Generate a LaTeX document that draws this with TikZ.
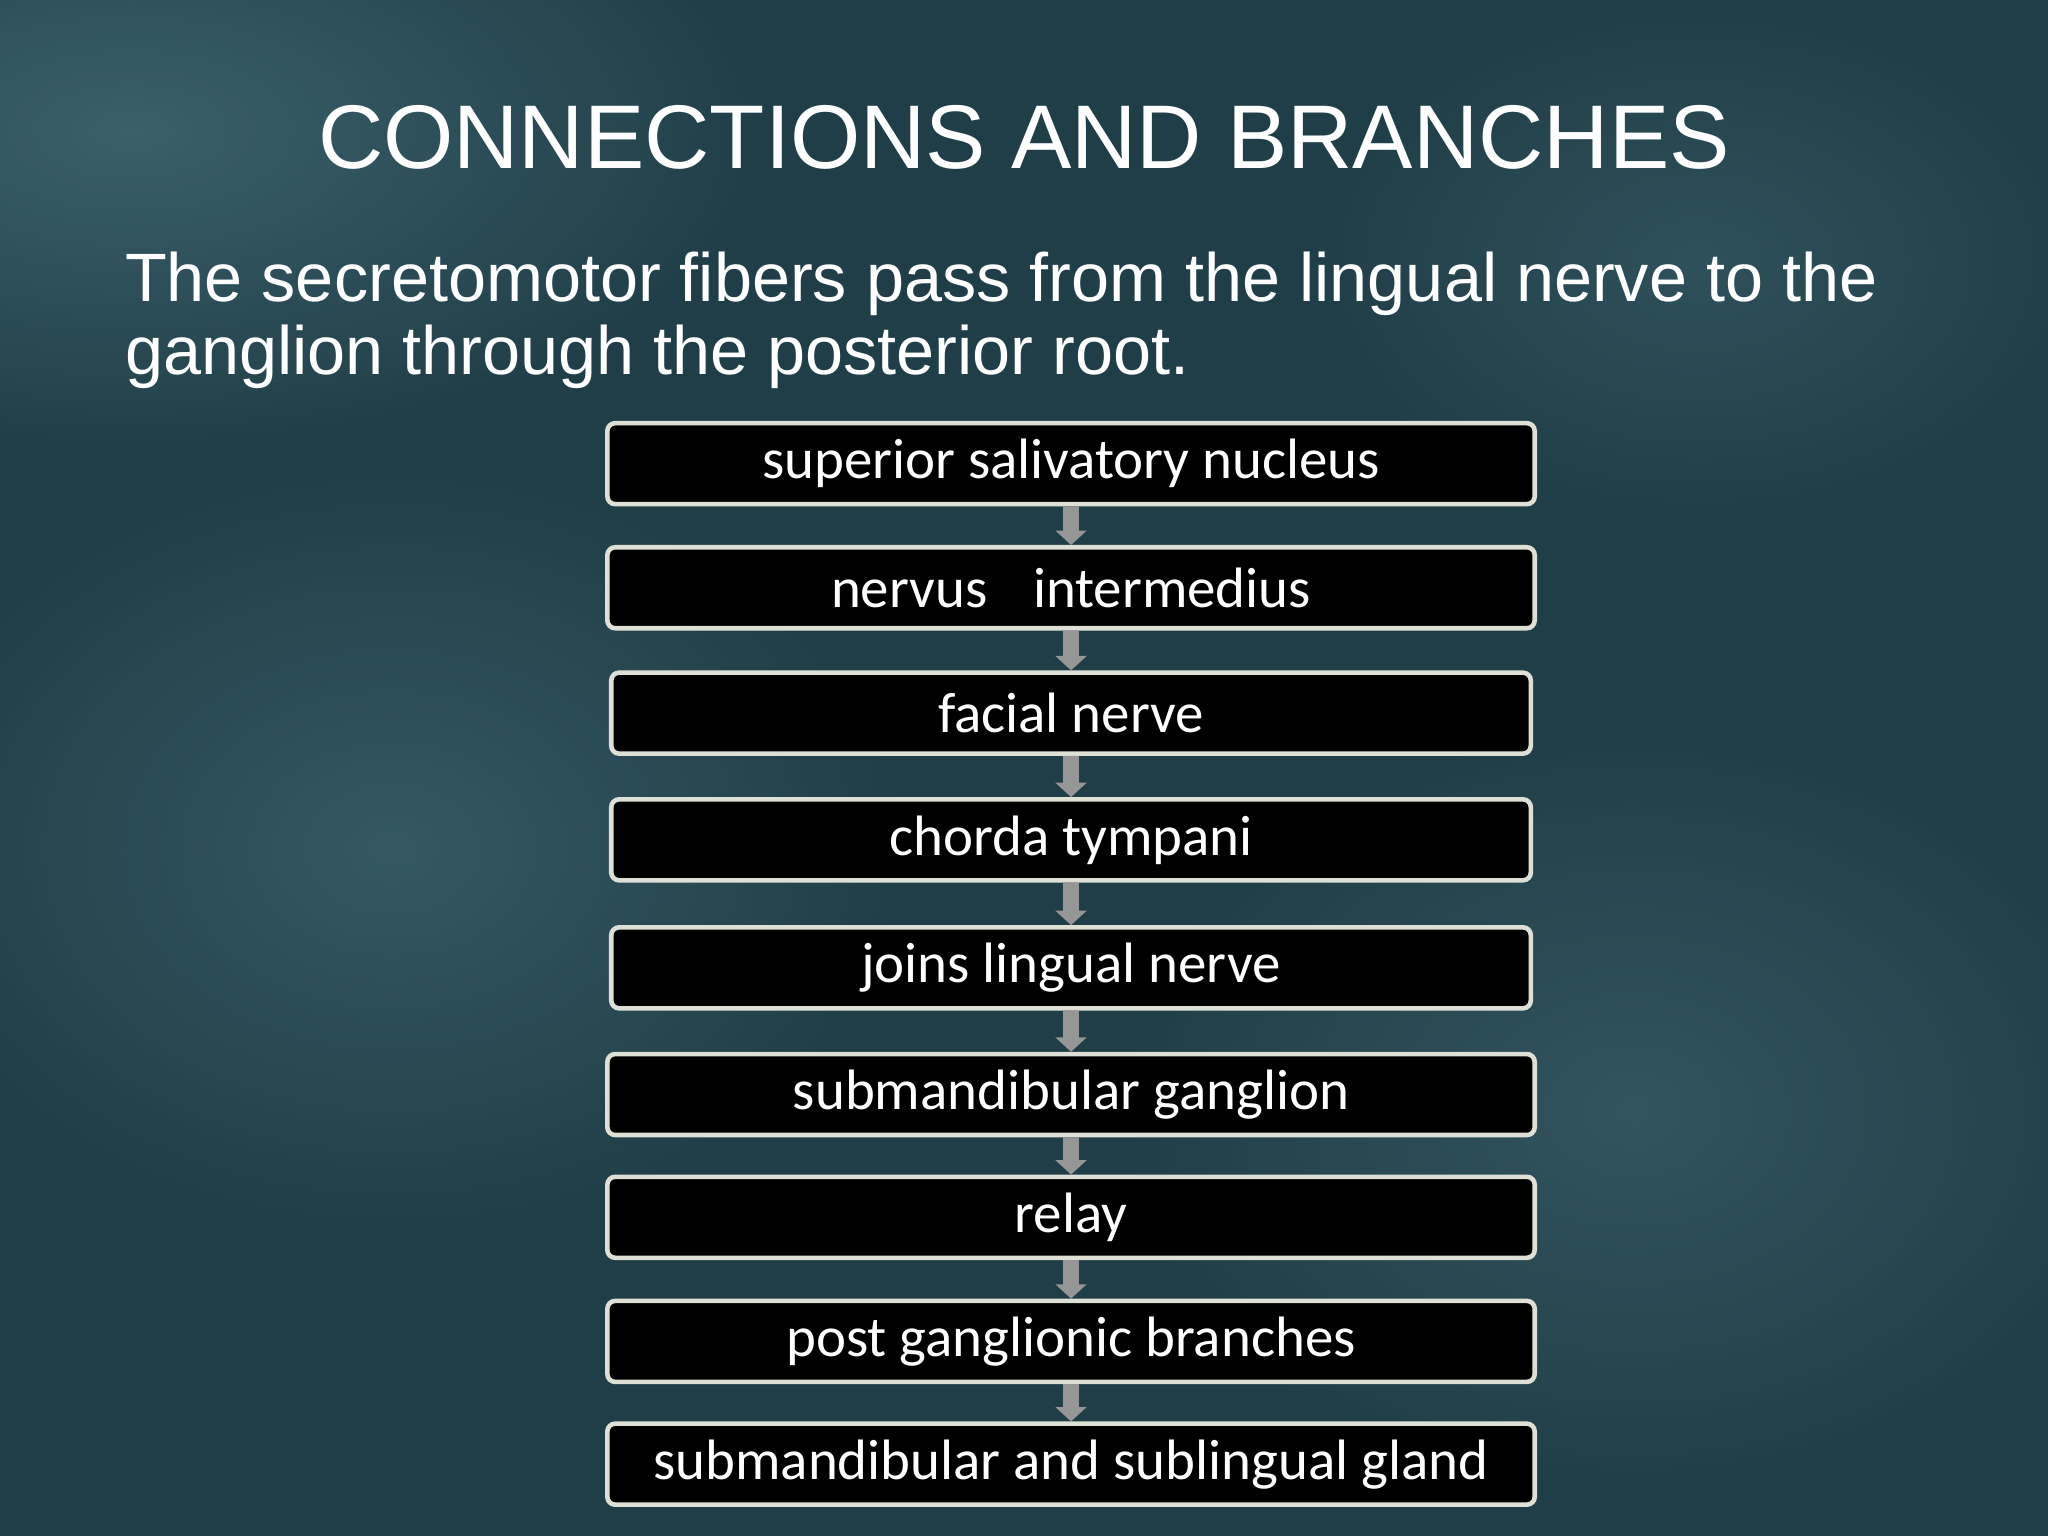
\documentclass[tikz,border=0pt]{standalone}
\usepackage{fontspec}
\setmainfont{Liberation Sans}
\newfontfamily\boxfont{Carlito}
\usetikzlibrary{calc}
\definecolor{bgdark}{RGB}{32,62,72}
\definecolor{bgmid}{RGB}{62,100,110}
\definecolor{boxedge}{RGB}{222,224,214}
\definecolor{arrowgray}{RGB}{150,150,150}
\tikzset{
  flowbox/.style={draw=boxedge, line width=0.035cm, fill=black, rounded corners=0.06cm,
    minimum height=0.62cm, text=white, font=\boxfont\fontsize{12.4pt}{14pt}\selectfont, inner sep=0pt},
  dnarrow/.style={fill=arrowgray, draw=none}
}
\begin{document}
\begin{tikzpicture}[x=1cm,y=-1cm]
\useasboundingbox (0,0) rectangle (15.68,11.76);
\fill[bgdark] (0,0) rectangle (15.68,11.76);
\shade[inner color=bgmid, outer color=bgdark, opacity=0.9] (1,1) ellipse (5 and 2.5);
\shade[inner color=bgmid, outer color=bgdark, opacity=0.7] (3,6.5) ellipse (4 and 3);
\shade[inner color=bgmid, outer color=bgdark, opacity=0.6] (12.5,8.5) ellipse (4 and 3);
\shade[inner color=bgmid, outer color=bgdark, opacity=0.5] (13,2) ellipse (3 and 2);
\node[text=white, font=\fontsize{19.7pt}{24pt}\selectfont] (title) at (7.84,1.05) {CONNECTIONS AND BRANCHES};
\node[text=white, font=\fontsize{14.9pt}{16pt}\selectfont, anchor=north west, align=left, inner sep=0pt] (body) at (0.95,1.92)
  {The secretomotor fibers pass from the lingual nerve to the\\ganglion through the posterior root.};
\node[flowbox, minimum width=7.1cm] (b1) at (8.2,3.55) {superior salivatory nucleus};
\node[flowbox, minimum width=7.1cm] (b2) at (8.2,4.50) {nervus\hspace{0.8em}intermedius};
\node[flowbox, minimum width=7.04cm] (b3) at (8.2,5.46) {facial nerve};
\node[flowbox, minimum width=7.04cm] (b4) at (8.2,6.43) {chorda tympani};
\node[flowbox, minimum width=7.04cm] (b5) at (8.2,7.41) {joins lingual nerve};
\node[flowbox, minimum width=7.1cm] (b6) at (8.2,8.38) {submandibular ganglion};
\node[flowbox, minimum width=7.1cm] (b7) at (8.2,9.32) {relay};
\node[flowbox, minimum width=7.1cm] (b8) at (8.2,10.27) {post ganglionic branches};
\node[flowbox, minimum width=7.1cm] (b9) at (8.2,11.21) {submandibular and sublingual gland};
\foreach \a/\b in {b1/b2,b2/b3,b3/b4,b4/b5,b5/b6,b6/b7,b7/b8,b8/b9}{
  \path let \p1=(\a.south), \p2=(\b.north) in
    [dnarrow] (\x1-0.06cm,\y1) -- (\x1+0.06cm,\y1) -- (\x1+0.06cm,{\y2+0.11cm}) -- (\x1+0.12cm,{\y2+0.11cm})
    -- (\x1,\y2) -- (\x1-0.12cm,{\y2+0.11cm}) -- (\x1-0.06cm,{\y2+0.11cm}) -- cycle;
}
\end{tikzpicture}
\end{document}
